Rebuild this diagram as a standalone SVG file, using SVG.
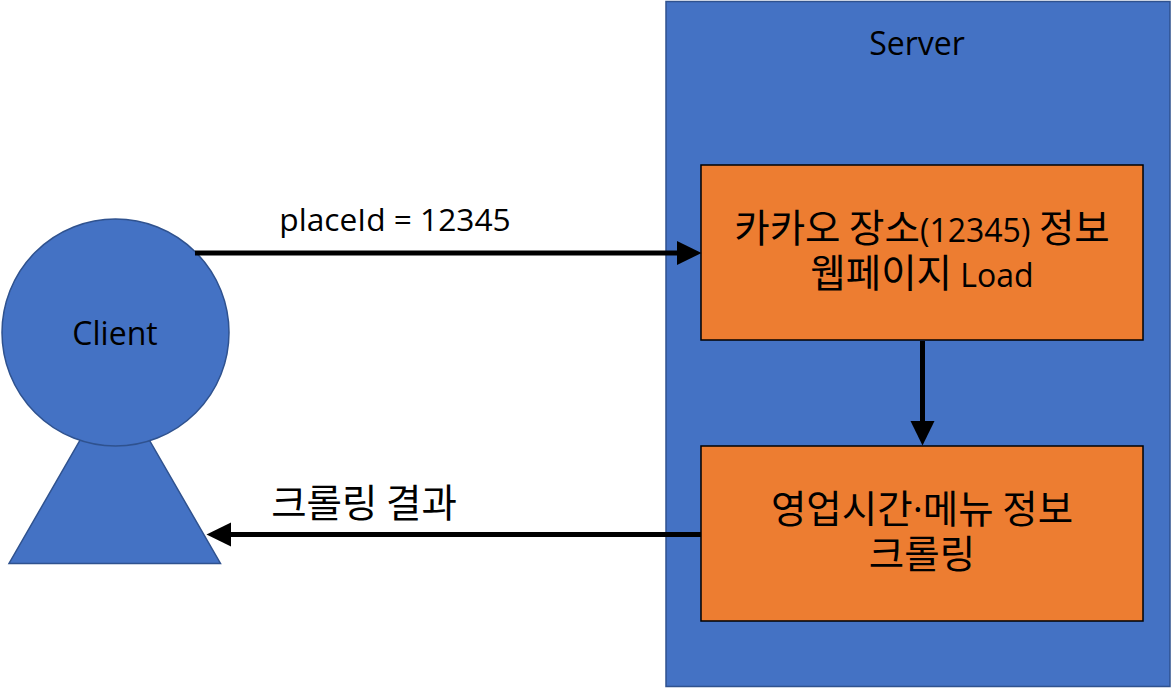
<svg xmlns="http://www.w3.org/2000/svg" width="1172" height="688" viewBox="0 0 1172 688">
<style>
.blue{fill:#4472c4;stroke:#2f528f;stroke-width:1.5}
.orange{fill:#ed7d31;stroke:#000;stroke-width:1.5}
text{font-family:"Open Sans","Noto Sans CJK KR","Noto Sans",sans-serif;fill:#000;text-anchor:middle;font-size:32px}
.k{font-family:"Noto Sans CJK KR",sans-serif;font-size:38.500px}
.m{font-family:"Open Sans",sans-serif}
.c{stroke:#000;stroke-width:5;fill:none}
</style>
<defs>
<marker id="a" markerUnits="userSpaceOnUse" markerWidth="26" markerHeight="26" refX="4" refY="13" orient="auto"><path d="M0 1 L24.500 13 L0 25Z" fill="#000"/></marker>
</defs>
<rect width="1172" height="688" fill="#fff"/>
<g id="server"><rect class="blue" x="666" y="1.500" width="504" height="685"/><text x="917" y="55">Server</text></g>
<g id="client">
<path class="blue" d="M114.700 380 L220.500 563.500 L9 563.500Z"/>
<circle class="blue" cx="115.500" cy="332.500" r="113.500"/>
<text x="115" y="345">Client</text>
</g>
<g id="load"><rect class="orange" x="701" y="165" width="442" height="175"/>
<text x="922" y="242"><tspan class="k">카카오 장소</tspan>(12345)<tspan class="k"> 정보</tspan></text><text x="922" y="287"><tspan class="k">웹페이지</tspan> Load</text></g>
<g id="crawl"><rect class="orange" x="701" y="446" width="442" height="175"/>
<text x="922" y="523" class="k">영업시간<tspan class="m">·</tspan>메뉴 정보</text><text x="922" y="568" class="k">크롤링</text></g>
<g id="connectors">
<line class="c" x1="195" y1="253" x2="681" y2="253" marker-end="url(#a)"/>
<line class="c" x1="922.500" y1="341" x2="922.500" y2="425" marker-end="url(#a)"/>
<line class="c" x1="701" y1="534.500" x2="227" y2="534.500" marker-end="url(#a)"/>
</g>
<text x="395" y="231" style="font-size:31.700px">placeId = 12345</text>
<text x="364" y="517" class="k">크롤링 결과</text>
</svg>
